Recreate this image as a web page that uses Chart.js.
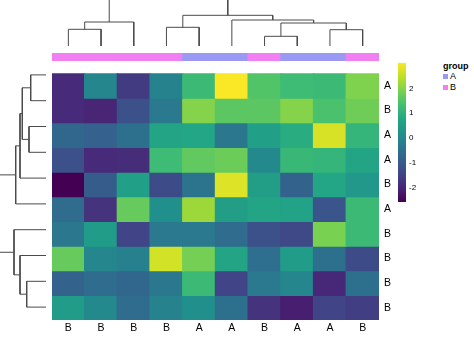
<!DOCTYPE html>
<html><head><meta charset="utf-8">
<script src="https://cdn.jsdelivr.net/npm/chart.js@4"></script>
<style>
html,body{margin:0;padding:0;background:#fff;width:474px;height:338px;overflow:hidden;position:relative;font-family:"Liberation Sans",Arial,sans-serif;}
canvas{position:absolute;}
.lg{position:absolute;font-size:9px;color:#000;line-height:9px;white-space:nowrap;}
.sw{position:absolute;width:5px;height:5px;}
</style></head><body>
<canvas id="dTop" width="327" height="46" style="left:52px;top:0px"></canvas>
<canvas id="dLeft" width="46" height="258" style="left:0px;top:62px"></canvas>
<canvas id="annot" width="327" height="8" style="left:52px;top:53px"></canvas>
<canvas id="heat" width="345" height="276" style="left:52px;top:62px"></canvas>
<canvas id="cbar" width="40" height="155" style="left:398px;top:55px"></canvas>
<div id="legend"></div>
<script>
// ---------- data ----------
const colLabels = ['B','B','B','B','A','A','B','A','A','B'];
const rowLabels = ['A','B','A','A','B','A','B','B','B','B'];
const colGroups = ['B','B','B','B','A','A','B','A','A','B'];
const groupNames = ['A','B'];
const groupColors = ['#9a9af5','#f27ff2'];
const legendTitle = 'group';

const row0 = [-1.9, 0.0, -1.6, -0.1, 1.2, 3.0, 1.5, 1.25, 1.2, 1.95];
const row1 = [-1.9, -2.0, -1.2, -0.3, 2.0, 1.6, 1.6, 2.0, 1.4, 1.8];
const row2 = [-0.7, -0.85, -0.5, 0.7, 0.75, -0.35, 0.6, 0.9, 2.7, 1.1];
const row3 = [-1.2, -1.9, -1.85, 1.25, 1.65, 1.75, 0.05, 1.15, 1.1, 0.7];
const row4 = [-2.57, -0.95, 0.6, -1.3, -0.45, 2.75, 0.55, -0.8, 0.75, 0.4];
const row5 = [-0.6, -1.75, 1.7, 0.2, 2.2, 0.55, 0.7, 0.65, -1.1, 1.2];
const row6 = [-0.35, 0.5, -1.45, -0.3, -0.3, -0.6, -1.2, -1.35, 1.9, 1.2];
const row7 = [1.7, 0.0, -0.15, 2.65, 1.85, 0.7, -0.55, 0.5, -0.5, -1.3];
const row8 = [-0.8, -0.6, -0.7, -0.35, 1.2, -1.45, -0.3, 0.0, -1.95, -0.5];
const row9 = [0.5, 0.05, -0.6, -0.1, 0.2, -0.5, -1.75, -2.1, -1.45, -1.55];
const values = [row0,row1,row2,row3,row4,row5,row6,row7,row8,row9];

const colorMin = -2.57, colorMax = 3.03;
const colorTicks = [-2,-1,0,1,2];

// dendrograms (hclust style: negative = leaf -(i+1), positive = merge number)
const colMerge = [[-7,-8],[-9,-10],[-1,-2],[-4,-5],[1,2],[3,-3],[-6,5],[4,7],[6,8]];
const colHeight = [9.7,16.3,16.7,18.7,23,24,26,30.7,60];
const rowMerge = [[-1,-2],[-3,-4],[-9,-10],[1,2],[4,-5],[-8,3],[5,-6],[-7,6],[7,8]];
const rowHeight = [15.3,17,19.3,23.7,26,26,30.3,32,60];

// ---------- helpers ----------
const FONT = '"Liberation Sans", Arial, sans-serif';
const VIR = ['#440154','#482475','#414487','#355f8d','#2a788e','#21918c','#22a884','#44bf70','#7ad151','#bddf26','#fde725'];
function hex(h){return [1,3,5].map(i=>parseInt(h.substr(i,2),16));}
const VIRRGB = VIR.map(hex);
function viridis(v){
  let t = (v-colorMin)/(colorMax-colorMin); t = Math.max(0,Math.min(1,t));
  const f = t*(VIR.length-1); const i = Math.min(VIR.length-2, Math.floor(f)); const u = f-i;
  const a = VIRRGB[i], b = VIRRGB[i+1];
  const c = a.map((x,k)=>Math.round(x+(b[k]-x)*u));
  return `rgb(${c[0]},${c[1]},${c[2]})`;
}
function dendroSegments(merge, heights){
  const pos = [], hh = [];
  const get = (id) => id < 0 ? [(-id-1)+0.5, 0] : [pos[id-1], hh[id-1]];
  const segs = [];
  merge.forEach((m,k)=>{
    const [pa,ha] = get(m[0]); const [pb,hb] = get(m[1]); const h = heights[k];
    pos[k] = (pa+pb)/2; hh[k] = h;
    segs.push([[pa,ha],[pa,h],[pb,h],[pb,hb]]);
  });
  return segs;
}
const base = {responsive:false, animation:false, devicePixelRatio:1,
  plugins:{legend:{display:false}, tooltip:{enabled:false}}, events:[]};
const LINE = '#4a4a4a';

// ---------- top dendrogram ----------
new Chart(document.getElementById('dTop'), {
  type:'scatter',
  data:{datasets: dendroSegments(colMerge,colHeight).map(s=>({
    data: s.map(p=>({x:p[0], y:p[1]})), showLine:true, pointRadius:0,
    borderColor:LINE, borderWidth:1, tension:0}))},
  options:{...base, layout:{padding:0},
    scales:{x:{display:false,min:0,max:10}, y:{display:false,min:0,max:46}}}
});
// ---------- left dendrogram ----------
new Chart(document.getElementById('dLeft'), {
  type:'scatter',
  data:{datasets: dendroSegments(rowMerge,rowHeight).map(s=>({
    data: s.map(p=>({x:p[1], y:p[0]})), showLine:true, pointRadius:0,
    borderColor:LINE, borderWidth:1, tension:0}))},
  options:{...base, layout:{padding:0},
    scales:{x:{display:false,min:0,max:46,reverse:true}, y:{display:false,min:0,max:10,reverse:true}}}
});
// ---------- annotation bar ----------
new Chart(document.getElementById('annot'), {
  type:'bar',
  data:{labels: colLabels, datasets:[{
    data: colGroups.map(()=>[0,1]),
    backgroundColor: colGroups.map(g=>groupColors[groupNames.indexOf(g)]),
    borderWidth:0, barPercentage:1, categoryPercentage:1, inflateAmount:0.6}]},
  options:{...base, layout:{padding:0},
    scales:{x:{display:false}, y:{display:false,min:0,max:1}}}
});
// ---------- heatmap ----------
new Chart(document.getElementById('heat'), {
  type:'bar',
  data:{labels: colLabels, datasets: values.map((row,r)=>({
    data: row.map(()=>[r, r+1]),
    backgroundColor: row.map(v=>viridis(v)),
    borderWidth:0, barPercentage:1, categoryPercentage:1, grouped:false, inflateAmount:0.7}))},
  options:{...base, layout:{padding:0},
    scales:{
      x:{type:'category', offset:true, grid:{display:false, drawTicks:false}, border:{display:false},
        ticks:{color:'#000', font:{size:10.5, family:FONT}, padding:2, maxRotation:0, autoSkip:false},
        afterFit:(s)=>{s.height=18;}},
      y:{type:'linear', position:'right', min:0, max:10, reverse:true,
        grid:{display:false, drawTicks:false}, border:{display:false},
        afterBuildTicks:(s)=>{s.ticks = rowLabels.map((_,i)=>({value:i+0.5}));},
        ticks:{color:'#000', font:{size:10.5, family:FONT}, padding:5, autoSkip:false,
          callback:(v)=>rowLabels[Math.floor(v)]},
        afterFit:(s)=>{s.width=18;}}
    }}
});
// ---------- colour bar ----------
new Chart(document.getElementById('cbar'), {
  type:'bar',
  data:{labels:[''], datasets:[{
    data:[[colorMin, colorMax]], borderWidth:0, barPercentage:1, categoryPercentage:1,
    backgroundColor:(ctx)=>{
      const ca = ctx.chart.chartArea; if(!ca) return VIR[5];
      const g = ctx.chart.ctx.createLinearGradient(0, ca.bottom, 0, ca.top);
      VIR.forEach((c,i)=>g.addColorStop(i/(VIR.length-1), c));
      return g;
    }}]},
  options:{...base, layout:{padding:{top:7,bottom:8,left:0,right:0}},
    scales:{
      x:{display:false},
      y:{type:'linear', position:'right', min:colorMin, max:colorMax,
        grid:{display:false, drawTicks:false}, border:{display:false},
        afterBuildTicks:(s)=>{s.ticks = colorTicks.map(v=>({value:v}));},
        ticks:{color:'#000', font:{size:8, family:FONT}, padding:3, autoSkip:false},
        afterFit:(s)=>{s.width=32;}}
    }}
});
// ---------- group legend ----------
(function(){
  const L = document.getElementById('legend');
  let html = `<div class="lg" style="left:443px;top:62px;font-weight:bold;">${legendTitle}</div>`;
  groupNames.forEach((g,i)=>{
    const top = 74 + i*11;
    html += `<div class="sw" style="left:443px;top:${top}px;background:${groupColors[i]}"></div>`;
    html += `<div class="lg" style="left:450px;top:${top-2}px;">${g}</div>`;
  });
  L.innerHTML = html;
})();
</script>
</body></html>
